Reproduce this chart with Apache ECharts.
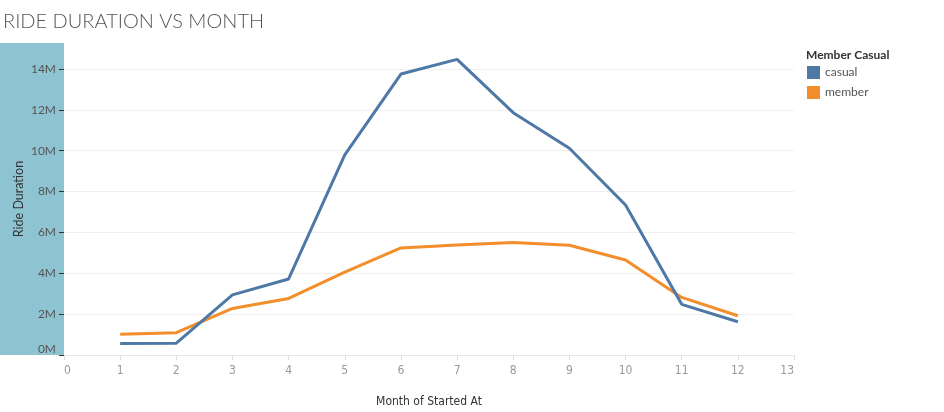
<!DOCTYPE html>
<html>
<head>
<meta charset="utf-8">
<script src="https://cdn.jsdelivr.net/npm/echarts@6/dist/echarts.min.js"></script>
<style>
html,body{margin:0;padding:0;background:#fff;}
#chart{width:944px;height:412px;}
</style>
</head>
<body>
<div id="chart"></div>
<script>
var months = [1,2,3,4,5,6,7,8,9,10,11,12];
var casual = [0.56e6,0.58e6,2.94e6,3.72e6,9.79e6,13.75e6,14.47e6,11.86e6,10.12e6,7.34e6,2.48e6,1.63e6];
var member = [1.02e6,1.09e6,2.28e6,2.77e6,4.06e6,5.24e6,5.38e6,5.50e6,5.37e6,4.65e6,2.82e6,1.92e6];
var seriesNames = ['casual','member'];

function pairs(vals){ return months.map(function(m,i){ return [m, vals[i]]; }); }

var narrow = '"DejaVu Sans Condensed", "Liberation Sans Narrow", "Roboto", sans-serif';

var chart = echarts.init(document.getElementById('chart'), null, {renderer:'canvas'});
chart.setOption({
  animation:false,
  backgroundColor:'#ffffff',
  title:{
    text:'RIDE DURATION VS MONTH',
    left:-2, top:7,
    textStyle:{fontFamily:'Lato', fontWeight:300, fontSize:20, color:'#555555'}
  },
  graphic:[{
    type:'rect', z:-10, silent:true,
    shape:{x:0,y:43,width:64,height:312},
    style:{fill:'#8ec4d2'}
  },{
    type:'text', left:806, top:49,
    style:{text:'Member Casual', font:'bold 12px Lato', fill:'#333333'}
  }],
  legend:{
    orient:'vertical', left:807, top:66, itemGap:7, padding:0,
    itemWidth:13, itemHeight:13, icon:'rect',
    textStyle:{fontFamily:'Lato', fontSize:12, color:'#555555'},
    data:seriesNames
  },
  grid:{left:64, right:150, top:43, bottom:57, containLabel:false, outerBoundsMode:'none'},
  xAxis:{
    type:'value', min:0, max:13, interval:1,
    name:'Month of Started At', nameLocation:'middle', nameGap:41, nameMoveOverlap:false,
    nameTextStyle:{fontFamily:narrow, fontSize:12, color:'#333333'},
    axisLine:{show:true, lineStyle:{color:'#e6e6e6'}},
    axisTick:{show:true, length:5, lineStyle:{color:'#e0e0e0'}},
    axisLabel:{fontFamily:narrow, fontSize:12, color:'#999999', margin:10,
      alignMinLabel:'left', alignMaxLabel:'right'},
    splitLine:{show:false}
  },
  yAxis:{
    type:'value', min:0, max:15270000, interval:2000000,
    name:'Ride Duration', nameLocation:'middle', nameGap:39, nameMoveOverlap:false,
    nameTextStyle:{fontFamily:'Lato', fontSize:12.5, color:'#333333'},
    axisLine:{show:false},
    axisTick:{show:true, length:5, lineStyle:{color:'#333333'}},
    axisLabel:{fontFamily:'Lato', fontSize:12, color:'#555555', margin:8,
      showMaxLabel:false, verticalAlignMinLabel:'bottom',
      formatter:function(v){ return (v % 2000000 === 0) ? (v/1000000)+'M' : ''; }},
    splitLine:{show:true, showMaxLine:false, lineStyle:{color:'#f0f0f0'}}
  },
  series:[{
    name:seriesNames[0], type:'line', data:pairs(casual),
    symbol:'none', itemStyle:{color:'#4e79a7'},
    lineStyle:{width:3, color:'#4e79a7'}, z:3
  },{
    name:seriesNames[1], type:'line', data:pairs(member),
    symbol:'none', itemStyle:{color:'#f28e2b'},
    lineStyle:{width:3, color:'#f28e2b'}, z:2
  }]
});
</script>
</body>
</html>
